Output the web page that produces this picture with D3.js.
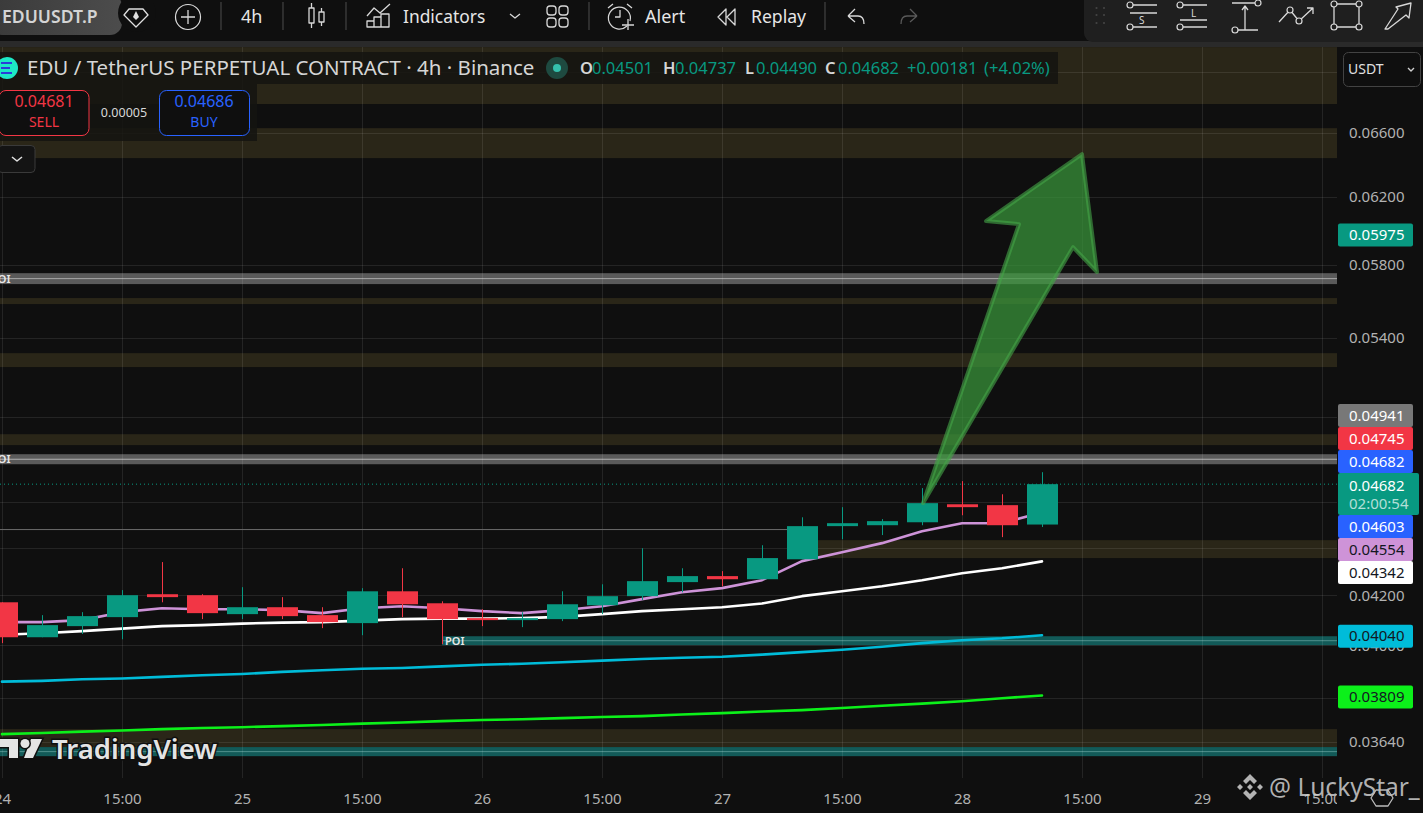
<!DOCTYPE html>
<html>
<head>
<meta charset="utf-8">
<script src="https://cdn.jsdelivr.net/npm/d3@7"></script>
<style>
  html, body { margin: 0; padding: 0; background: #0f0f0f; overflow: hidden; }
  svg { display: block; font-family: "Noto Sans", sans-serif; }
</style>
</head>
<body>
<div id="mychart"></div>
<script>
// candles, 4h
const candleOpen  = [.04172,.04032,.04076,.04112,.04205,.04201,.04124,.04152,.04120,.04088,.04217,.04168,.04108,.04100,.04104,.04160,.04197,.04255,.04280,.04267,.04351,.04494,.04498,.04511,.04591,.04587,.04501];
const candleHigh  = [.04172,.04120,.04132,.04222,.04339,.04205,.04234,.04193,.04152,.04230,.04313,.04176,.04144,.04132,.04217,.04246,.04398,.04313,.04301,.04411,.04533,.04578,.04525,.04664,.04696,.04636,.04737];
const candleLow   = [.04009,.04032,.04045,.04024,.04172,.04104,.04104,.04104,.04068,.04040,.04112,.04005,.04076,.04072,.04096,.04124,.04181,.04213,.04238,.04267,.04351,.04437,.04455,.04498,.04542,.04446,.04490];
const candleClose = [.04032,.04080,.04116,.04201,.04193,.04128,.04152,.04116,.04092,.04217,.04164,.04104,.04100,.04108,.04164,.04197,.04259,.04280,.04267,.04356,.04494,.04507,.04516,.04596,.04578,.04498,.04682];

// moving averages
const emaPurple = [.04092,.04092,.04100,.04132,.04148,.04144,.04144,.04140,.04128,.04148,.04156,.04148,.04136,.04128,.04140,.04156,.04185,.04213,.04230,.04263,.04343,.04381,.04420,.04472,.04507,.04507,.04554];
const emaWhite  = [.04042,.04048,.04056,.04066,.04076,.04080,.04086,.04090,.04092,.04098,.04104,.04106,.04106,.04108,.04113,.04124,.04136,.04144,.04152,.04167,.04197,.04217,.04238,.04263,.04292,.04313,.04342];
const emaCyan   = [.03861,.03864,.03870,.03873,.03879,.03885,.03890,.03898,.03904,.03910,.03913,.03919,.03925,.03929,.03935,.03941,.03947,.03952,.03956,.03964,.03974,.03983,.03995,.04009,.04020,.04028,.04040];
const emaGreen  = [.03668,.03672,.03677,.03681,.03686,.03690,.03693,.03697,.03701,.03706,.03710,.03715,.03719,.03722,.03726,.03730,.03733,.03739,.03744,.03750,.03755,.03763,.03771,.03779,.03788,.03799,.03809];

// zones: [high, low, first candle]
const yellowZones = [[.07174,.06786,-1],[.06628,.06437,-1],[.05615,.05582,-1],[.05321,.05249,-1],[.04916,.04864,-1],[.04433,.04356,20.4],[.03686,.03622,-1]];
const greyZones   = [[.05753,.05692,-1],[.04821,.04774,-1]];
const tealZones   = [[.04036,.04001,11],[.03622,.03590,-1]];

// arrow drawing: [candle, price]
const arrowPoints = [[23.025,.04596],[25.425,.06035],[24.6,.06053],[27,.06462],[27.375,.05759],[26.775,.05901]];

const gridPrices = [.07,.066,.062,.058,.054,.05,.048,.046,.044,.042,.04,.038,.0364];
const axisPrices = [.066,.062,.058,.054,.042,.04,.0364];
const timeTicks  = [0,3,6,9,12,15,18,21,24,27,30,33];
const timeLabels = ["24","15:00","25","15:00","26","15:00","27","15:00","28","15:00","29","15:00"];

const lastPrice = .04682;
const thinLinePrice = .04479;
const targetLabel = ["0.05975", .05975];
const stackedLabels = ["0.04941","0.04745","0.04682","0.04682","0.04603","0.04554","0.04342"];
const stackedFill   = ["#787878","#f23645","#2962ff","#089981","#2962ff","#ce93d8","#ffffff"];
const stackedText   = ["#fff","#fff","#fff","#fff","#fff","#131722","#131722"];
const cyanLabel  = ["0.04040", .0404];
const greenLabel = ["0.03809", .03809];

const width = 1423, height = 813;
const RED = "#f23645", GREEN = "#089981", BG = "#0f0f0f";

const x = d3.scaleLinear().domain([0, 33]).range([2, 1322]);
const y = d3.scaleLog().domain([.066, .0364]).range([132.5, 742]);

const svg = d3.select("#mychart").append("svg")
    .attr("width", width).attr("height", height)
    .attr("viewBox", [0, 0, width, height]);

svg.append("rect").attr("width", width).attr("height", height).attr("fill", BG);

const defs = svg.append("defs");
defs.append("clipPath").attr("id", "plot").append("rect")
    .attr("x", 0).attr("y", 47).attr("width", 1337).attr("height", 731);
defs.append("clipPath").attr("id", "timeclip").append("rect")
    .attr("x", 0).attr("y", 778).attr("width", 1337).attr("height", 35);
const pill = defs.append("linearGradient").attr("id", "pill");
pill.append("stop").attr("offset", "0").attr("stop-color", "#3a3a3a");
pill.append("stop").attr("offset", "1").attr("stop-color", "#4c4c4c");

const plot = svg.append("g").attr("clip-path", "url(#plot)");

function drawZones(zones, fill, mid) {
    const g = plot.append("g").selectAll("g").data(zones).join("g");
    g.append("rect")
        .attr("x", d => x(d[2]))
        .attr("width", d => 1337 - x(d[2]))
        .attr("y", d => y(d[0]))
        .attr("height", d => y(d[1]) - y(d[0]))
        .attr("fill", fill);
    if (mid) {
        g.append("line")
            .attr("x1", d => x(d[2])).attr("x2", 1337)
            .attr("y1", d => (y(d[0]) + y(d[1])) / 2)
            .attr("y2", d => (y(d[0]) + y(d[1])) / 2)
            .attr("stroke", mid);
    }
}
drawZones(yellowZones, "#2a2618");
drawZones(greyZones, "#5a5a5a", "#a8a8a8");
drawZones(tealZones, "#125a58", "#4f8f8d");

// grid
plot.append("g").selectAll("line").data(gridPrices).join("line")
    .attr("x1", 0).attr("x2", 1337)
    .attr("y1", d => Math.round(y(d)) + .5).attr("y2", d => Math.round(y(d)) + .5)
    .attr("stroke", "#fff").attr("stroke-opacity", .09);
plot.append("g").selectAll("line").data(timeTicks).join("line")
    .attr("x1", d => x(d) + .5).attr("x2", d => x(d) + .5)
    .attr("y1", 47).attr("y2", 778)
    .attr("stroke", "#fff").attr("stroke-opacity", .09);

plot.append("line").attr("x1", 0).attr("x2", x(20.4))
    .attr("y1", y(thinLinePrice)).attr("y2", y(thinLinePrice))
    .attr("stroke", "#6a6a6a");
plot.append("line").attr("x1", 0).attr("x2", 1337)
    .attr("y1", y(lastPrice)).attr("y2", y(lastPrice))
    .attr("stroke", GREEN).attr("stroke-dasharray", "1 3");

// POI tags
plot.append("g").selectAll("text").data([[x(11) + 3, tealZones[0]], [-9, greyZones[0]], [-9, greyZones[1]]]).join("text")
    .attr("x", d => d[0])
    .attr("y", d => (y(d[1][0]) + y(d[1][1])) / 2 + 4)
    .attr("fill", "#e8e8e8").attr("font-size", 11).attr("font-weight", 600)
    .text("POI");

// moving averages
const line = d3.line().x((d, i) => x(i)).y(d => y(d));
plot.append("g").attr("fill", "none").attr("stroke-width", 2.6).attr("stroke-linecap", "round").attr("stroke-linejoin", "round")
    .selectAll("path")
    .data([[emaGreen, "#0cf01a"], [emaCyan, "#00bcd9"], [emaWhite, "#ffffff"], [emaPurple, "#ce93d8"]])
    .join("path")
    .attr("stroke", d => d[1])
    .attr("d", d => line(d[0]));

// candles
const candle = plot.append("g").selectAll("g").data(candleOpen).join("g")
    .attr("fill", (d, i) => candleClose[i] >= d ? GREEN : RED)
    .attr("stroke", (d, i) => candleClose[i] >= d ? GREEN : RED);
candle.append("line")
    .attr("x1", (d, i) => x(i) + .5).attr("x2", (d, i) => x(i) + .5)
    .attr("y1", (d, i) => y(candleHigh[i])).attr("y2", (d, i) => y(candleLow[i]));
candle.append("rect")
    .attr("stroke", "none")
    .attr("x", (d, i) => x(i) - 15)
    .attr("width", 31)
    .attr("y", (d, i) => y(Math.max(d, candleClose[i])))
    .attr("height", (d, i) => Math.abs(y(d) - y(candleClose[i])));

// arrow
plot.append("path")
    .attr("d", d3.line().x(d => x(d[0])).y(d => y(d[1]))(arrowPoints) + "Z")
    .attr("fill", "#3a9a3c").attr("fill-opacity", .7)
    .attr("stroke", "#45a548").attr("stroke-opacity", .6)
    .attr("stroke-width", 4).attr("stroke-linejoin", "round");

// price axis
const priceAxis = d3.axisRight(y).tickValues(axisPrices).tickFormat(d3.format(".5f")).tickSize(0).tickPadding(12);
const pa = svg.append("g").attr("transform", "translate(1337,0)").call(priceAxis);
pa.select(".domain").remove();
pa.selectAll("text").attr("fill", "#b2b2b2").attr("font-size", 15).attr("font-family", "Noto Sans");

// time axis
const timeAxis = d3.axisBottom(x).tickValues(timeTicks).tickFormat((d, i) => timeLabels[i]).tickSize(0).tickPadding(0);
const ta = svg.append("g").attr("clip-path", "url(#timeclip)").append("g").attr("transform", "translate(0,793)").call(timeAxis);
ta.select(".domain").remove();
ta.selectAll("text").attr("fill", "#b2b2b2").attr("font-size", 15).attr("font-family", "Noto Sans");

// price tags
function priceTag(cy, h, w, fill, txt, color) {
    svg.append("rect").attr("x", 1338).attr("y", cy - h / 2).attr("width", w).attr("height", h).attr("rx", 2).attr("fill", fill);
    svg.append("text").attr("x", 1349).attr("y", cy + 5).attr("fill", color).attr("font-size", 15).text(txt);
}
priceTag(y(targetLabel[1]) + .5, 23, 75, "#089981", targetLabel[0], "#fff");
priceTag(y(cyanLabel[1]) + 1, 23, 75, "#00bcd9", cyanLabel[0], "#131722");
priceTag(y(greenLabel[1]) + 1.5, 23, 75, "#0cf01a", greenLabel[0], "#131722");
let tagTop = 404;
stackedLabels.forEach((t, i) => {
    const big = i === 3;
    const h = big ? 42 : 23;
    if (big) {
        svg.append("rect").attr("x", 1338).attr("y", tagTop).attr("width", 81).attr("height", h).attr("rx", 2).attr("fill", stackedFill[i]);
        svg.append("text").attr("x", 1349).attr("y", tagTop + 18).attr("fill", "#fff").attr("font-size", 15).text(t);
        svg.append("text").attr("x", 1349).attr("y", tagTop + 36).attr("fill", "#fff").attr("fill-opacity", .7).attr("font-size", 15).text("02:00:54");
    } else {
        priceTag(tagTop + h / 2, h, 75, stackedFill[i], t, stackedText[i]);
    }
    tagTop += h;
});

// top bar
svg.append("rect").attr("y", 41).attr("width", width).attr("height", 6).attr("fill", "#2a2a2a");
svg.append("rect").attr("x", 1084).attr("y", -8).attr("width", 345).attr("height", 50).attr("rx", 9).attr("fill", "#1f1f1f");
svg.append("rect").attr("x", -10).attr("y", -6).attr("width", 132).attr("height", 41).attr("rx", 12).attr("fill", "url(#pill)");
svg.append("circle").attr("cx", 137).attr("cy", 13).attr("r", 19).attr("fill", "#0f0f0f");

function label(tx, ty, s, size, fill, extra) {
    const t = svg.append("text").attr("x", tx).attr("y", ty).attr("fill", fill).attr("font-size", size).text(s);
    if (extra) Object.entries(extra).forEach(([k, v]) => t.attr(k, v));
    return t;
}
function icon(d, stroke, w) {
    return svg.append("path").attr("d", d).attr("fill", "none").attr("stroke", stroke || "#d8d8d8").attr("stroke-width", w || 1.3).attr("stroke-linejoin", "round");
}
label(2, 23, "EDUUSDT.P", 17.6, "#d4d4d4", { "font-weight": 600 });
label(241, 23, "4h", 18, "#e6e6e6");
label(403, 23, "Indicators", 17.4, "#e6e6e6");
label(645, 23, "Alert", 18, "#e6e6e6");
label(751, 23, "Replay", 17.6, "#e6e6e6");

[221, 283, 346, 589, 825].forEach(v => icon(`M${v} 2V30`, "#3c3c3c", 1.4));
icon("M129 9h14l5 6-12 12-12-12z", "#e0e0e0");                     // diamond
svg.append("path").attr("d", "M136 11l3 6-3 3-3-3z").attr("fill", "#e0e0e0");
svg.append("circle").attr("cx", 188).attr("cy", 17).attr("r", 12.5).attr("fill", "none").attr("stroke", "#dcdcdc").attr("stroke-width", 1.2);
icon("M188 10v14M181 17h14");
icon("M309 8h5v15h-5zM311.5 3v5M311.5 23v5M319 12h5v10h-5zM321.5 8v4M321.5 22v4");  // candle
icon("M367 16l7-8 6 5 10-9M367 27v-6h7v6zM374 27v-10h7v10zM381 27v-13h8v13z");      // indicators
icon("M510 14l5 4 5-4");
[[547, 6], [559, 6], [547, 18], [559, 18]].forEach(p =>
    svg.append("rect").attr("x", p[0]).attr("y", p[1]).attr("width", 9).attr("height", 9).attr("rx", 3).attr("fill", "none").attr("stroke", "#d8d8d8").attr("stroke-width", 1.3));
svg.append("path").attr("d", "M627 26a11 11 0 1 1 3-5").attr("fill", "none").attr("stroke", "#d8d8d8").attr("stroke-width", 1.2);
icon("M620 10v7h-5M608 8l5-4M632 8l-5-4M628 19v11M622 25h12");
icon("M726 9l-8 8 8 8zM735 9l-8 8 8 8z");
icon("M848 16l7-7M848 16l7 6M848 16h10c4 0 6 3 6 8");
icon("M917 16l-7-7M917 16l-7 6M917 16h-10c-4 0-6 3-6 8", "#5a5a5a");

// right toolbar
svg.append("g").attr("fill", "#444").selectAll("circle")
    .data([[1096.5, 8], [1104, 8], [1096.5, 15], [1104, 15], [1096.5, 23], [1104, 23]]).join("circle")
    .attr("cx", d => d[0]).attr("cy", d => d[1]).attr("r", 1.1);
function node(cx, cy) { svg.append("circle").attr("cx", cx).attr("cy", cy).attr("r", 3).attr("fill", "#1f1f1f").attr("stroke", "#d8d8d8").attr("stroke-width", 1.2); }
icon("M1130 5h27M1130 13h27M1130 27h27"); node(1130, 5); node(1130, 27);
label(1139, 24, "S", 10, "#d8d8d8");
icon("M1180 5h27M1180 20h27M1180 27h27"); node(1180, 5); node(1180, 27);
label(1191, 17, "L", 10, "#d8d8d8");
icon("M1232 3h26M1232 30h26M1245 6v24M1242 10l3-4 3 4"); node(1258, 3); node(1235, 30);
icon("M1279 22l11-12 9 11 14-13M1307 8h6v6"); node(1290, 10); node(1299, 21);
icon("M1334 4h25v23h-25z"); node(1334, 4); node(1359, 4); node(1334, 27); node(1359, 27);
icon("M1385 29l13-20-2-2 15-4-2 15-3-3-18 14z");

// legend
svg.append("rect").attr("y", 52).attr("width", 1058).attr("height", 32).attr("fill", "#141410").attr("fill-opacity", .85);
svg.append("rect").attr("y", 84).attr("width", 257).attr("height", 57).attr("fill", "#141410").attr("fill-opacity", .85);
svg.append("circle").attr("cx", 7).attr("cy", 68).attr("r", 11).attr("fill", "#1de9c6");
icon("M1 63h11M1 68h9M1 73h11", "#2a3fd8", 2.2);
label(27, 75, "EDU / TetherUS PERPETUAL CONTRACT · 4h · Binance", 20.5, "#d6d6d6");
svg.append("circle").attr("cx", 557).attr("cy", 68).attr("r", 11).attr("fill", "#1e4a40");
svg.append("circle").attr("cx", 557).attr("cy", 68).attr("r", 4).attr("fill", "#35c0ac");
[[580, "O"], [663, "H"], [745, "L"], [825, "C"]].forEach(d => label(d[0], 74, d[1], 16.5, "#d6d6d6", { "font-weight": 600 }));
[[592, "0.04501"], [675, "0.04737"], [756, "0.04490"], [838, "0.04682"], [907, "+0.00181"], [984, "(+4.02%)"]].forEach(d => label(d[0], 74, d[1], 16.5, GREEN));

svg.append("rect").attr("x", -1).attr("y", 90.5).attr("width", 90).attr("height", 45).attr("rx", 7).attr("fill", BG).attr("stroke", RED);
svg.append("rect").attr("x", 159.5).attr("y", 90.5).attr("width", 90).attr("height", 45).attr("rx", 7).attr("fill", BG).attr("stroke", "#2962ff");
label(44, 107, "0.04681", 16, RED, { "text-anchor": "middle" });
label(44, 127, "SELL", 14, RED, { "text-anchor": "middle" });
label(124, 117, "0.00005", 12.5, "#d8d8d8", { "text-anchor": "middle" });
label(204, 107, "0.04686", 16, "#2962ff", { "text-anchor": "middle" });
label(204, 127, "BUY", 14, "#2962ff", { "text-anchor": "middle" });
svg.append("rect").attr("x", -2).attr("y", 145.5).attr("width", 37).attr("height", 27).attr("rx", 4).attr("fill", "#141414").attr("stroke", "#3a3a3a");
icon("M12 157l5 4 5-4", "#e0e0e0", 1.6);

// USDT select
svg.append("rect").attr("x", 1343.5).attr("y", 52.5).attr("width", 77).attr("height", 34).attr("rx", 5).attr("fill", BG).attr("stroke", "#434343");
label(1348, 74, "USDT", 14, "#e0e0e0");
icon("M1408 68l3 3 3-3", "#d0d0d0", 1.4);

// TradingView logo
const logo = svg.append("g").attr("fill", "#e4e4e4").attr("stroke", "#0f0f0f").attr("stroke-width", 3).attr("paint-order", "stroke");
logo.append("path").attr("d", "M-2 739H18V758H9V747H-2ZM31 739H42L33 758H24Z");
logo.append("circle").attr("cx", 25).attr("cy", 743.5).attr("r", 4.5);
logo.append("text").attr("x", 52).attr("y", 759).attr("font-size", 27.5).attr("font-weight", 600).text("TradingView");

// watermark
const mark = svg.append("g").attr("fill", "#d0d0d0").attr("fill-opacity", .85);
mark.append("path").attr("d", "M1250 774l7 7-3 3-4-4-4 4-3-3zM1250 800l7-7-3-3-4 4-4-4-3 3zM1237 787l3-3 3 3-3 3zM1263 787l-3-3-3 3 3 3zM1250 784l3 3-3 3-3-3z");
label(1269, 796, "@ LuckyStar_", 24.5, "#cfcfcf", { "fill-opacity": .85 });
icon("M1376 790l12 0 5 8-5 8-12 0-5-8z", "#bcbcbc", 1.3);
</script>
</body>
</html>
